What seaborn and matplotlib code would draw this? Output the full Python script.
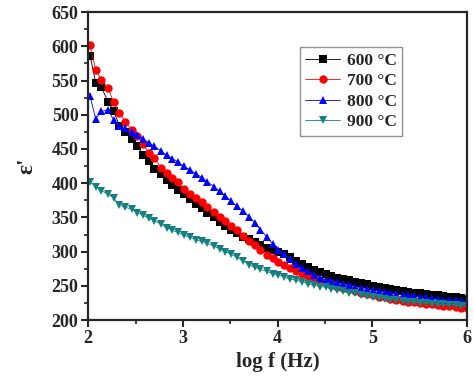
import numpy as np
import pandas as pd
import matplotlib
matplotlib.use("Agg")
import matplotlib.pyplot as plt
from matplotlib.ticker import MultipleLocator
import seaborn as sns

log_f = [2.02, 2.08, 2.14, 2.21, 2.27, 2.33, 2.39, 2.46, 2.52, 2.58, 2.64, 2.70, 2.77, 2.83, 2.89, 2.95,
         3.01, 3.08, 3.14, 3.20, 3.26, 3.33, 3.39, 3.45, 3.51, 3.57, 3.64, 3.70, 3.76, 3.82, 3.89, 3.95,
         4.01, 4.07, 4.13, 4.20, 4.26, 4.32, 4.38, 4.45, 4.51, 4.57, 4.63, 4.69, 4.76, 4.82, 4.88, 4.94,
         5.01, 5.07, 5.13, 5.19, 5.25, 5.32, 5.38, 5.44, 5.50, 5.57, 5.63, 5.69, 5.75, 5.81, 5.88, 5.94, 6.00]

eps_600 = [586, 547, 540, 519, 505, 484, 475, 464, 455, 441, 432, 421, 413, 404, 397, 390,
           384, 377, 370, 364, 357, 350, 344, 338, 332, 327, 322, 318, 314, 310, 306, 303,
           300, 296, 292, 287, 282, 277, 273, 270, 267, 264, 262, 260, 258, 256, 254, 252,
           250, 248, 247, 245, 244, 242, 241, 240, 239, 238, 237, 236, 235, 234, 233, 232, 231]

eps_700 = [602, 565, 551, 539, 518, 503, 490, 478, 469, 457, 444, 437, 422, 415, 408, 401,
           391, 384, 379, 372, 365, 358, 351, 345, 338, 331, 323, 316, 309, 302, 295, 290,
           285, 281, 276, 272, 268, 264, 260, 257, 254, 251, 249, 247, 245, 242, 240, 238,
           236, 234, 233, 231, 230, 228, 227, 226, 225, 224, 223, 222, 221, 220, 219, 218, 217]

eps_800 = [527, 494, 505, 507, 492, 483, 480, 475, 470, 465, 459, 454, 447, 441, 436, 431,
           425, 419, 414, 408, 402, 395, 388, 381, 374, 366, 359, 351, 342, 332, 321, 311,
           302, 296, 289, 282, 276, 271, 266, 262, 259, 257, 255, 253, 251, 249, 247, 246,
           244, 242, 241, 239, 238, 237, 236, 235, 234, 233, 232, 231, 230, 230, 229, 228, 228]

eps_900 = [402, 395, 389, 384, 378, 368, 365, 362, 357, 353, 349, 345, 340, 335, 331, 328,
           324, 321, 317, 315, 312, 308, 304, 300, 296, 292, 286, 281, 277, 274, 271, 268,
           266, 263, 260, 258, 256, 253, 251, 249, 248, 246, 244, 242, 240, 239, 237, 235,
           233, 232, 231, 230, 229, 228, 227, 226, 225, 225, 224, 223, 223, 222, 222, 221, 221]

labels = ["600 °C", "700 °C", "800 °C", "900 °C"]
series = [eps_600, eps_700, eps_800, eps_900]

frames = []
for lab, ys in zip(labels, series):
    frames.append(pd.DataFrame({"logf": log_f, "eps": ys, "T": lab}))
df = pd.concat(frames, ignore_index=True)

sns.set_style("ticks")
plt.rcParams["font.family"] = ["Liberation Serif", "DejaVu Serif"]
plt.rcParams["font.weight"] = "bold"

colors = ["#000000", "#ff0000", "#0000ff", "#148080"]
markers = ["s", "o", "^", "v"]

fig = plt.figure(figsize=(4.74, 3.77), dpi=100)
ax = fig.add_axes([0.186, 0.151, 0.799, 0.817])

for lab, c, m in zip(labels, colors, markers):
    sub = df[df["T"] == lab]
    sns.lineplot(data=sub, x="logf", y="eps", ax=ax, color=c, marker=m, markersize=6,
                 markeredgewidth=0, linewidth=0.6, label=lab, clip_on=True)

ax.set_xlim(2, 6)
ax.set_ylim(200, 650)
ax.xaxis.set_major_locator(MultipleLocator(1))
ax.xaxis.set_minor_locator(MultipleLocator(0.5))
ax.yaxis.set_major_locator(MultipleLocator(50))
ax.yaxis.set_minor_locator(MultipleLocator(25))
ax.tick_params(which="major", direction="out", length=5, width=1.5, labelsize=13, pad=2)
ax.tick_params(which="minor", direction="out", length=3, width=1.2)
for lbl in ax.get_xticklabels() + ax.get_yticklabels():
    lbl.set_fontweight("bold")
for s in ax.spines.values():
    s.set_linewidth(1.6)
    s.set_visible(True)

ax.set_xlabel("log f (Hz)", fontsize=15, fontweight="bold", labelpad=4)
ax.set_ylabel("ε'", fontsize=17, fontweight="bold", labelpad=10)

leg = ax.legend(loc="upper left", bbox_to_anchor=(0.56, 0.885), fontsize=12.5, frameon=True,
                fancybox=False, edgecolor="#777777", handlelength=2.0, handletextpad=0.4,
                borderpad=0.3, labelspacing=0.25, borderaxespad=0)
leg.get_frame().set_linewidth(1.0)
for t in leg.get_texts():
    t.set_fontweight("bold")

fig.savefig("out.png", dpi=100)
